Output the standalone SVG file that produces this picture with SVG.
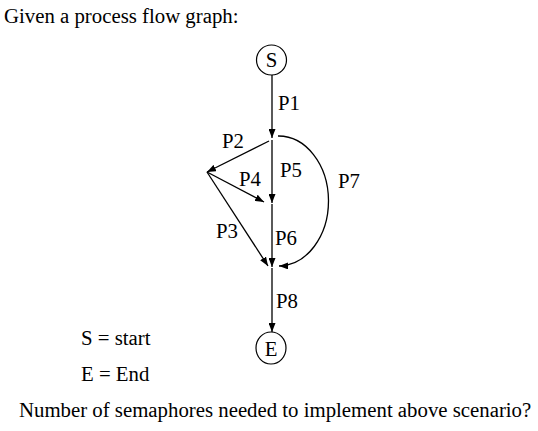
<svg xmlns="http://www.w3.org/2000/svg" width="538" height="431" viewBox="0 0 538 431">
<style>
text{font-family:"Liberation Serif","Times New Roman",serif;font-size:20.8px;fill:#000}
.e{stroke:#000;stroke-width:1.3;fill:none}
.n{stroke:#000;stroke-width:1.2;fill:#fff}
</style>
<defs>
<marker id="ah" markerWidth="9" markerHeight="7" refX="9" refY="3.5" orient="auto" markerUnits="userSpaceOnUse"><path d="M0,0 L9,3.5 L0,7 z" fill="#000"/></marker>
</defs>
<rect width="538" height="431" fill="#fff"/>
<text x="4" y="23">Given a process flow graph:</text>
<g id="connectors">
<line class="e" x1="272" y1="75" x2="272" y2="138" marker-end="url(#ah)"/>
<line class="e" x1="269" y1="141" x2="207" y2="172" marker-end="url(#ah)"/>
<line class="e" x1="272" y1="140" x2="272" y2="203" marker-end="url(#ah)"/>
<line class="e" x1="207" y1="172" x2="264" y2="202" marker-end="url(#ah)"/>
<line class="e" x1="207" y1="172" x2="268" y2="266" marker-end="url(#ah)"/>
<line class="e" x1="272" y1="204" x2="272" y2="267" marker-end="url(#ah)"/>
<path class="e" d="M278,136 A50,65 0 0 1 279,266" marker-end="url(#ah)"/>
<line class="e" x1="272" y1="268" x2="272" y2="332" marker-end="url(#ah)"/>
</g>
<g id="nodeS"><circle class="n" cx="271.5" cy="60" r="15"/><text x="271.5" y="67" text-anchor="middle">S</text></g>
<g id="nodeE"><ellipse class="n" cx="271" cy="348" rx="15" ry="16"/><text x="271" y="355.5" text-anchor="middle">E</text></g>
<g id="labels">
<text x="278" y="110">P1</text>
<text x="222" y="148">P2</text>
<text x="280" y="177">P5</text>
<text x="239" y="186">P4</text>
<text x="338" y="188">P7</text>
<text x="216" y="238">P3</text>
<text x="275" y="245">P6</text>
<text x="276" y="308">P8</text>
</g>
<text x="81" y="345">S = start</text>
<text x="81" y="381">E = End</text>
<text x="19" y="417">Number of semaphores needed to implement above scenario?</text>
</svg>
